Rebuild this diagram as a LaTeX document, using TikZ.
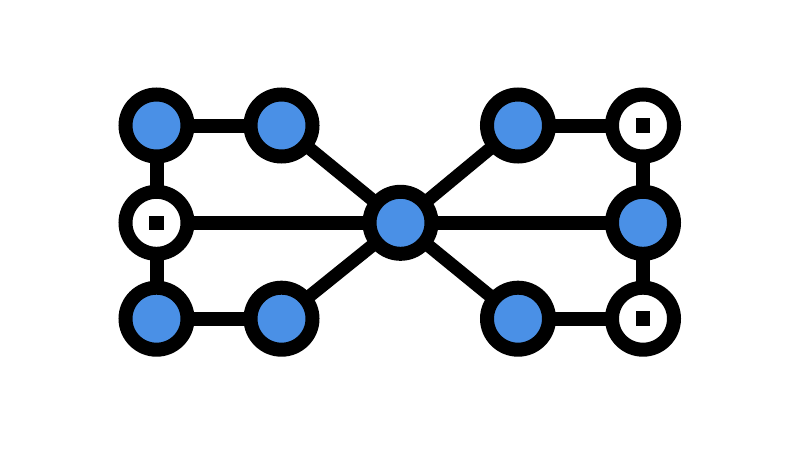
\documentclass[tikz,border=0pt]{standalone}
\definecolor{fillblue}{HTML}{4A90E6}
\tikzset{
 x=1pt,y=-1pt,
 hub/.style={circle,draw=black,line width=14pt,minimum size=62pt,inner sep=0pt,outer sep=0pt},
 bluenode/.style={hub,fill=fillblue},
 whitenode/.style={hub,fill=white},
 link/.style={line width=14pt,black},
 slant/.style={line width=13pt,black},
 dot/.style={rectangle,fill=black,minimum size=14.5pt,inner sep=0pt,outer sep=0pt}
}
\begin{document}
\begin{tikzpicture}
\useasboundingbox (0,0) rectangle (800,450);
\coordinate (a1) at (156.5,125.5); \coordinate (a2) at (281.5,125.5);
\coordinate (a3) at (518,125.5); \coordinate (a4) at (643,125.5);
\coordinate (b1) at (156.5,222.8); \coordinate (c) at (400.5,222.8); \coordinate (b4) at (643,222.8);
\coordinate (c1) at (156.5,318.7); \coordinate (c2) at (281.5,318.7);
\coordinate (c3) at (518,318.7); \coordinate (c4) at (643,318.7);
\draw[link] (a1)--(a2) (a1)--(b1) (b1)--(c1) (c1)--(c2) (b1)--(c)
 (c)--(b4) (a3)--(a4) (c3)--(c4) (a4)--(b4) (b4)--(c4);
\draw[slant] (a2)--(c) (c2)--(c) (c)--(a3) (c)--(c3);
\foreach \n in {a1,a2,a3,b4,c,c1,c2,c3} \node[bluenode] (n\n) at (\n) {};
\foreach \n in {b1,a4,c4} {\node[whitenode] (n\n) at (\n) {}; \node[dot] (d\n) at (\n) {};}
\end{tikzpicture}
\end{document}
